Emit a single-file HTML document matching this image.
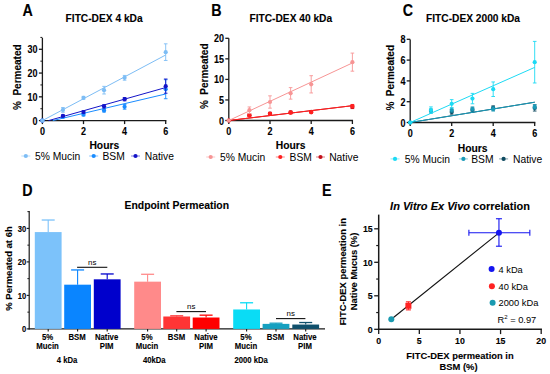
<!DOCTYPE html>
<html><head><meta charset="utf-8"><style>
html,body{margin:0;padding:0;background:#fff;}
svg{display:block;font-family:"Liberation Sans", sans-serif;}
text[font-weight=bold]{stroke:#000;stroke-width:0.1px;}
</style></head><body>
<svg width="550" height="374" viewBox="0 0 550 374">
<rect width="550" height="374" fill="#fff"/>
<text x="0" y="0" transform="translate(22.60,15.70) scale(1,1.1)" font-size="14.3" font-weight="bold" text-anchor="start" fill="#000" >A</text>
<text x="104.1" y="21.8" font-size="10.2" font-weight="bold" text-anchor="middle" fill="#000" >FITC-DEX 4 kDa</text>
<line x1="42.40" y1="38.00" x2="42.40" y2="121.25" stroke="#1a1a1a" stroke-width="1.3" />
<line x1="41.75" y1="120.60" x2="166.35" y2="120.60" stroke="#1a1a1a" stroke-width="1.3" />
<line x1="38.90" y1="120.60" x2="42.40" y2="120.60" stroke="#1a1a1a" stroke-width="1.3" />
<text x="0" y="0" transform="translate(37.60,124.60) scale(1,1.17)" font-size="9.0" font-weight="bold" text-anchor="end" fill="#000" >0</text>
<line x1="38.90" y1="96.83" x2="42.40" y2="96.83" stroke="#1a1a1a" stroke-width="1.3" />
<text x="0" y="0" transform="translate(37.60,100.83) scale(1,1.17)" font-size="9.0" font-weight="bold" text-anchor="end" fill="#000" >10</text>
<line x1="38.90" y1="73.06" x2="42.40" y2="73.06" stroke="#1a1a1a" stroke-width="1.3" />
<text x="0" y="0" transform="translate(37.60,77.06) scale(1,1.17)" font-size="9.0" font-weight="bold" text-anchor="end" fill="#000" >20</text>
<line x1="38.90" y1="49.29" x2="42.40" y2="49.29" stroke="#1a1a1a" stroke-width="1.3" />
<text x="0" y="0" transform="translate(37.60,53.29) scale(1,1.17)" font-size="9.0" font-weight="bold" text-anchor="end" fill="#000" >30</text>
<line x1="40.40" y1="108.72" x2="42.40" y2="108.72" stroke="#1a1a1a" stroke-width="1" />
<line x1="40.40" y1="84.94" x2="42.40" y2="84.94" stroke="#1a1a1a" stroke-width="1" />
<line x1="40.40" y1="61.17" x2="42.40" y2="61.17" stroke="#1a1a1a" stroke-width="1" />
<line x1="40.40" y1="37.41" x2="42.40" y2="37.41" stroke="#1a1a1a" stroke-width="1" />
<line x1="42.40" y1="120.60" x2="42.40" y2="124.10" stroke="#1a1a1a" stroke-width="1.3" />
<text x="0" y="0" transform="translate(42.40,135.10) scale(1,1.17)" font-size="9.0" font-weight="bold" text-anchor="middle" fill="#000" >0</text>
<line x1="83.50" y1="120.60" x2="83.50" y2="124.10" stroke="#1a1a1a" stroke-width="1.3" />
<text x="0" y="0" transform="translate(83.50,135.10) scale(1,1.17)" font-size="9.0" font-weight="bold" text-anchor="middle" fill="#000" >2</text>
<line x1="124.60" y1="120.60" x2="124.60" y2="124.10" stroke="#1a1a1a" stroke-width="1.3" />
<text x="0" y="0" transform="translate(124.60,135.10) scale(1,1.17)" font-size="9.0" font-weight="bold" text-anchor="middle" fill="#000" >4</text>
<line x1="165.70" y1="120.60" x2="165.70" y2="124.10" stroke="#1a1a1a" stroke-width="1.3" />
<text x="0" y="0" transform="translate(165.70,135.10) scale(1,1.17)" font-size="9.0" font-weight="bold" text-anchor="middle" fill="#000" >6</text>
<text x="0" y="0" font-size="10.0" font-weight="bold" text-anchor="middle" fill="#000" transform="translate(21.3,77.2) rotate(-90)">%&#160;&#160;Permeated</text>
<text x="104.3" y="149.3" font-size="10.3" font-weight="bold" text-anchor="middle" fill="#000" >Hours</text>
<line x1="52.67" y1="120.60" x2="165.70" y2="93.98" stroke="#1a8cff" stroke-width="1" />
<line x1="62.95" y1="117.75" x2="62.95" y2="115.85" stroke="#1a8cff" stroke-width="0.9" />
<line x1="61.15" y1="115.85" x2="64.75" y2="115.85" stroke="#1a8cff" stroke-width="0.9" />
<line x1="61.15" y1="117.75" x2="64.75" y2="117.75" stroke="#1a8cff" stroke-width="0.9" />
<circle cx="62.95" cy="116.80" r="2.1" fill="#1a8cff"/>
<line x1="83.50" y1="115.85" x2="83.50" y2="113.47" stroke="#1a8cff" stroke-width="0.9" />
<line x1="81.70" y1="113.47" x2="85.30" y2="113.47" stroke="#1a8cff" stroke-width="0.9" />
<line x1="81.70" y1="115.85" x2="85.30" y2="115.85" stroke="#1a8cff" stroke-width="0.9" />
<circle cx="83.50" cy="114.66" r="2.1" fill="#1a8cff"/>
<line x1="104.05" y1="112.04" x2="104.05" y2="109.19" stroke="#1a8cff" stroke-width="0.9" />
<line x1="102.25" y1="109.19" x2="105.85" y2="109.19" stroke="#1a8cff" stroke-width="0.9" />
<line x1="102.25" y1="112.04" x2="105.85" y2="112.04" stroke="#1a8cff" stroke-width="0.9" />
<circle cx="104.05" cy="110.62" r="2.1" fill="#1a8cff"/>
<line x1="124.60" y1="109.19" x2="124.60" y2="104.44" stroke="#1a8cff" stroke-width="0.9" />
<line x1="122.80" y1="104.44" x2="126.40" y2="104.44" stroke="#1a8cff" stroke-width="0.9" />
<line x1="122.80" y1="109.19" x2="126.40" y2="109.19" stroke="#1a8cff" stroke-width="0.9" />
<circle cx="124.60" cy="106.81" r="2.1" fill="#1a8cff"/>
<line x1="165.70" y1="98.73" x2="165.70" y2="79.72" stroke="#1a8cff" stroke-width="0.9" />
<line x1="163.90" y1="79.72" x2="167.50" y2="79.72" stroke="#1a8cff" stroke-width="0.9" />
<line x1="163.90" y1="98.73" x2="167.50" y2="98.73" stroke="#1a8cff" stroke-width="0.9" />
<circle cx="165.70" cy="89.22" r="2.1" fill="#1a8cff"/>
<circle cx="42.40" cy="120.60" r="2.1" fill="#1a8cff"/>
<line x1="48.56" y1="120.60" x2="165.70" y2="87.56" stroke="#1414c8" stroke-width="1" />
<line x1="62.95" y1="116.80" x2="62.95" y2="114.90" stroke="#1414c8" stroke-width="0.9" />
<line x1="61.15" y1="114.90" x2="64.75" y2="114.90" stroke="#1414c8" stroke-width="0.9" />
<line x1="61.15" y1="116.80" x2="64.75" y2="116.80" stroke="#1414c8" stroke-width="0.9" />
<circle cx="62.95" cy="115.85" r="2.1" fill="#1414c8"/>
<line x1="83.50" y1="113.23" x2="83.50" y2="110.85" stroke="#1414c8" stroke-width="0.9" />
<line x1="81.70" y1="110.85" x2="85.30" y2="110.85" stroke="#1414c8" stroke-width="0.9" />
<line x1="81.70" y1="113.23" x2="85.30" y2="113.23" stroke="#1414c8" stroke-width="0.9" />
<circle cx="83.50" cy="112.04" r="2.1" fill="#1414c8"/>
<line x1="104.05" y1="108.00" x2="104.05" y2="104.67" stroke="#1414c8" stroke-width="0.9" />
<line x1="102.25" y1="104.67" x2="105.85" y2="104.67" stroke="#1414c8" stroke-width="0.9" />
<line x1="102.25" y1="108.00" x2="105.85" y2="108.00" stroke="#1414c8" stroke-width="0.9" />
<circle cx="104.05" cy="106.34" r="2.1" fill="#1414c8"/>
<line x1="124.60" y1="100.87" x2="124.60" y2="97.54" stroke="#1414c8" stroke-width="0.9" />
<line x1="122.80" y1="97.54" x2="126.40" y2="97.54" stroke="#1414c8" stroke-width="0.9" />
<line x1="122.80" y1="100.87" x2="126.40" y2="100.87" stroke="#1414c8" stroke-width="0.9" />
<circle cx="124.60" cy="99.21" r="2.1" fill="#1414c8"/>
<line x1="165.70" y1="93.26" x2="165.70" y2="79.00" stroke="#1414c8" stroke-width="0.9" />
<line x1="163.90" y1="79.00" x2="167.50" y2="79.00" stroke="#1414c8" stroke-width="0.9" />
<line x1="163.90" y1="93.26" x2="167.50" y2="93.26" stroke="#1414c8" stroke-width="0.9" />
<circle cx="165.70" cy="86.13" r="2.1" fill="#1414c8"/>
<circle cx="42.40" cy="120.60" r="2.1" fill="#1414c8"/>
<line x1="42.40" y1="120.60" x2="165.70" y2="54.99" stroke="#7dbdf5" stroke-width="1" />
<line x1="62.95" y1="112.28" x2="62.95" y2="107.53" stroke="#7dbdf5" stroke-width="0.9" />
<line x1="61.15" y1="107.53" x2="64.75" y2="107.53" stroke="#7dbdf5" stroke-width="0.9" />
<line x1="61.15" y1="112.28" x2="64.75" y2="112.28" stroke="#7dbdf5" stroke-width="0.9" />
<circle cx="62.95" cy="109.90" r="2.1" fill="#7dbdf5"/>
<line x1="83.50" y1="99.21" x2="83.50" y2="96.35" stroke="#7dbdf5" stroke-width="0.9" />
<line x1="81.70" y1="96.35" x2="85.30" y2="96.35" stroke="#7dbdf5" stroke-width="0.9" />
<line x1="81.70" y1="99.21" x2="85.30" y2="99.21" stroke="#7dbdf5" stroke-width="0.9" />
<circle cx="83.50" cy="97.78" r="2.1" fill="#7dbdf5"/>
<line x1="104.05" y1="93.98" x2="104.05" y2="86.37" stroke="#7dbdf5" stroke-width="0.9" />
<line x1="102.25" y1="86.37" x2="105.85" y2="86.37" stroke="#7dbdf5" stroke-width="0.9" />
<line x1="102.25" y1="93.98" x2="105.85" y2="93.98" stroke="#7dbdf5" stroke-width="0.9" />
<circle cx="104.05" cy="90.17" r="2.1" fill="#7dbdf5"/>
<line x1="124.60" y1="80.19" x2="124.60" y2="75.44" stroke="#7dbdf5" stroke-width="0.9" />
<line x1="122.80" y1="75.44" x2="126.40" y2="75.44" stroke="#7dbdf5" stroke-width="0.9" />
<line x1="122.80" y1="80.19" x2="126.40" y2="80.19" stroke="#7dbdf5" stroke-width="0.9" />
<circle cx="124.60" cy="77.81" r="2.1" fill="#7dbdf5"/>
<line x1="165.70" y1="60.46" x2="165.70" y2="43.82" stroke="#7dbdf5" stroke-width="0.9" />
<line x1="163.90" y1="43.82" x2="167.50" y2="43.82" stroke="#7dbdf5" stroke-width="0.9" />
<line x1="163.90" y1="60.46" x2="167.50" y2="60.46" stroke="#7dbdf5" stroke-width="0.9" />
<circle cx="165.70" cy="52.14" r="2.1" fill="#7dbdf5"/>
<circle cx="42.40" cy="120.60" r="2.1" fill="#7dbdf5"/>
<line x1="21.30" y1="156.00" x2="30.30" y2="156.00" stroke="#7dbdf5" stroke-width="0.9" stroke-opacity="0.6"/>
<circle cx="25.80" cy="156.00" r="2.1" fill="#7dbdf5"/>
<text x="35" y="159.7" font-size="10.3" font-weight="normal" text-anchor="start" fill="#000" >5% Mucin</text>
<line x1="89.20" y1="156.00" x2="98.20" y2="156.00" stroke="#1a8cff" stroke-width="0.9" stroke-opacity="0.6"/>
<circle cx="93.70" cy="156.00" r="2.1" fill="#1a8cff"/>
<text x="102.5" y="159.7" font-size="10.3" font-weight="normal" text-anchor="start" fill="#000" >BSM</text>
<line x1="131.00" y1="156.00" x2="140.00" y2="156.00" stroke="#1414c8" stroke-width="0.9" stroke-opacity="0.6"/>
<circle cx="135.50" cy="156.00" r="2.1" fill="#1414c8"/>
<text x="144.8" y="159.7" font-size="10.3" font-weight="normal" text-anchor="start" fill="#000" >Native</text>
<text x="0" y="0" transform="translate(211.30,15.70) scale(1,1.1)" font-size="14.3" font-weight="bold" text-anchor="start" fill="#000" >B</text>
<text x="290.8" y="21.9" font-size="10.2" font-weight="bold" text-anchor="middle" fill="#000" >FITC-DEX 40 kDa</text>
<line x1="228.80" y1="38.30" x2="228.80" y2="121.15" stroke="#1a1a1a" stroke-width="1.3" />
<line x1="228.15" y1="120.50" x2="353.05" y2="120.50" stroke="#1a1a1a" stroke-width="1.3" />
<line x1="225.30" y1="120.50" x2="228.80" y2="120.50" stroke="#1a1a1a" stroke-width="1.3" />
<text x="0" y="0" transform="translate(224.00,124.50) scale(1,1.17)" font-size="9.0" font-weight="bold" text-anchor="end" fill="#000" >0</text>
<line x1="225.30" y1="99.95" x2="228.80" y2="99.95" stroke="#1a1a1a" stroke-width="1.3" />
<text x="0" y="0" transform="translate(224.00,103.95) scale(1,1.17)" font-size="9.0" font-weight="bold" text-anchor="end" fill="#000" >5</text>
<line x1="225.30" y1="79.40" x2="228.80" y2="79.40" stroke="#1a1a1a" stroke-width="1.3" />
<text x="0" y="0" transform="translate(224.00,83.40) scale(1,1.17)" font-size="9.0" font-weight="bold" text-anchor="end" fill="#000" >10</text>
<line x1="225.30" y1="58.85" x2="228.80" y2="58.85" stroke="#1a1a1a" stroke-width="1.3" />
<text x="0" y="0" transform="translate(224.00,62.85) scale(1,1.17)" font-size="9.0" font-weight="bold" text-anchor="end" fill="#000" >15</text>
<line x1="225.30" y1="38.30" x2="228.80" y2="38.30" stroke="#1a1a1a" stroke-width="1.3" />
<text x="0" y="0" transform="translate(224.00,42.30) scale(1,1.17)" font-size="9.0" font-weight="bold" text-anchor="end" fill="#000" >20</text>
<line x1="228.80" y1="120.50" x2="228.80" y2="124.00" stroke="#1a1a1a" stroke-width="1.3" />
<text x="0" y="0" transform="translate(228.80,135.00) scale(1,1.17)" font-size="9.0" font-weight="bold" text-anchor="middle" fill="#000" >0</text>
<line x1="270.00" y1="120.50" x2="270.00" y2="124.00" stroke="#1a1a1a" stroke-width="1.3" />
<text x="0" y="0" transform="translate(270.00,135.00) scale(1,1.17)" font-size="9.0" font-weight="bold" text-anchor="middle" fill="#000" >2</text>
<line x1="311.20" y1="120.50" x2="311.20" y2="124.00" stroke="#1a1a1a" stroke-width="1.3" />
<text x="0" y="0" transform="translate(311.20,135.00) scale(1,1.17)" font-size="9.0" font-weight="bold" text-anchor="middle" fill="#000" >4</text>
<line x1="352.40" y1="120.50" x2="352.40" y2="124.00" stroke="#1a1a1a" stroke-width="1.3" />
<text x="0" y="0" transform="translate(352.40,135.00) scale(1,1.17)" font-size="9.0" font-weight="bold" text-anchor="middle" fill="#000" >6</text>
<text x="0" y="0" font-size="10.0" font-weight="bold" text-anchor="middle" fill="#000" transform="translate(208.4,76.3) rotate(-90)">%&#160;&#160;Permeated</text>
<text x="290.6" y="149.3" font-size="10.3" font-weight="bold" text-anchor="middle" fill="#000" >Hours</text>
<line x1="228.80" y1="120.50" x2="352.40" y2="105.70" stroke="#c4101a" stroke-width="1" />
<line x1="249.40" y1="116.39" x2="249.40" y2="113.92" stroke="#c4101a" stroke-width="0.9" />
<line x1="247.60" y1="113.92" x2="251.20" y2="113.92" stroke="#c4101a" stroke-width="0.9" />
<line x1="247.60" y1="116.39" x2="251.20" y2="116.39" stroke="#c4101a" stroke-width="0.9" />
<circle cx="249.40" cy="115.16" r="2.1" fill="#c4101a"/>
<line x1="270.00" y1="114.75" x2="270.00" y2="112.28" stroke="#c4101a" stroke-width="0.9" />
<line x1="268.20" y1="112.28" x2="271.80" y2="112.28" stroke="#c4101a" stroke-width="0.9" />
<line x1="268.20" y1="114.75" x2="271.80" y2="114.75" stroke="#c4101a" stroke-width="0.9" />
<circle cx="270.00" cy="113.51" r="2.1" fill="#c4101a"/>
<line x1="290.60" y1="113.51" x2="290.60" y2="111.05" stroke="#c4101a" stroke-width="0.9" />
<line x1="288.80" y1="111.05" x2="292.40" y2="111.05" stroke="#c4101a" stroke-width="0.9" />
<line x1="288.80" y1="113.51" x2="292.40" y2="113.51" stroke="#c4101a" stroke-width="0.9" />
<circle cx="290.60" cy="112.28" r="2.1" fill="#c4101a"/>
<line x1="311.20" y1="112.69" x2="311.20" y2="111.05" stroke="#c4101a" stroke-width="0.9" />
<line x1="309.40" y1="111.05" x2="313.00" y2="111.05" stroke="#c4101a" stroke-width="0.9" />
<line x1="309.40" y1="112.69" x2="313.00" y2="112.69" stroke="#c4101a" stroke-width="0.9" />
<circle cx="311.20" cy="111.87" r="2.1" fill="#c4101a"/>
<line x1="352.40" y1="108.58" x2="352.40" y2="105.29" stroke="#c4101a" stroke-width="0.9" />
<line x1="350.60" y1="105.29" x2="354.20" y2="105.29" stroke="#c4101a" stroke-width="0.9" />
<line x1="350.60" y1="108.58" x2="354.20" y2="108.58" stroke="#c4101a" stroke-width="0.9" />
<circle cx="352.40" cy="106.94" r="2.1" fill="#c4101a"/>
<circle cx="228.80" cy="120.50" r="2.1" fill="#c4101a"/>
<line x1="228.80" y1="120.50" x2="352.40" y2="105.70" stroke="#ff2020" stroke-width="1" />
<line x1="249.40" y1="116.80" x2="249.40" y2="114.33" stroke="#ff2020" stroke-width="0.9" />
<line x1="247.60" y1="114.33" x2="251.20" y2="114.33" stroke="#ff2020" stroke-width="0.9" />
<line x1="247.60" y1="116.80" x2="251.20" y2="116.80" stroke="#ff2020" stroke-width="0.9" />
<circle cx="249.40" cy="115.57" r="2.1" fill="#ff2020"/>
<line x1="270.00" y1="115.16" x2="270.00" y2="112.69" stroke="#ff2020" stroke-width="0.9" />
<line x1="268.20" y1="112.69" x2="271.80" y2="112.69" stroke="#ff2020" stroke-width="0.9" />
<line x1="268.20" y1="115.16" x2="271.80" y2="115.16" stroke="#ff2020" stroke-width="0.9" />
<circle cx="270.00" cy="113.92" r="2.1" fill="#ff2020"/>
<line x1="290.60" y1="113.92" x2="290.60" y2="111.46" stroke="#ff2020" stroke-width="0.9" />
<line x1="288.80" y1="111.46" x2="292.40" y2="111.46" stroke="#ff2020" stroke-width="0.9" />
<line x1="288.80" y1="113.92" x2="292.40" y2="113.92" stroke="#ff2020" stroke-width="0.9" />
<circle cx="290.60" cy="112.69" r="2.1" fill="#ff2020"/>
<line x1="311.20" y1="113.10" x2="311.20" y2="111.46" stroke="#ff2020" stroke-width="0.9" />
<line x1="309.40" y1="111.46" x2="313.00" y2="111.46" stroke="#ff2020" stroke-width="0.9" />
<line x1="309.40" y1="113.10" x2="313.00" y2="113.10" stroke="#ff2020" stroke-width="0.9" />
<circle cx="311.20" cy="112.28" r="2.1" fill="#ff2020"/>
<line x1="352.40" y1="107.76" x2="352.40" y2="104.47" stroke="#ff2020" stroke-width="0.9" />
<line x1="350.60" y1="104.47" x2="354.20" y2="104.47" stroke="#ff2020" stroke-width="0.9" />
<line x1="350.60" y1="107.76" x2="354.20" y2="107.76" stroke="#ff2020" stroke-width="0.9" />
<circle cx="352.40" cy="106.11" r="2.1" fill="#ff2020"/>
<circle cx="228.80" cy="120.50" r="2.1" fill="#ff2020"/>
<line x1="228.80" y1="120.50" x2="352.40" y2="62.96" stroke="#f79595" stroke-width="1" />
<line x1="249.40" y1="113.51" x2="249.40" y2="106.94" stroke="#f79595" stroke-width="0.9" />
<line x1="247.60" y1="106.94" x2="251.20" y2="106.94" stroke="#f79595" stroke-width="0.9" />
<line x1="247.60" y1="113.51" x2="251.20" y2="113.51" stroke="#f79595" stroke-width="0.9" />
<circle cx="249.40" cy="110.22" r="2.1" fill="#f79595"/>
<line x1="270.00" y1="108.17" x2="270.00" y2="95.84" stroke="#f79595" stroke-width="0.9" />
<line x1="268.20" y1="95.84" x2="271.80" y2="95.84" stroke="#f79595" stroke-width="0.9" />
<line x1="268.20" y1="108.17" x2="271.80" y2="108.17" stroke="#f79595" stroke-width="0.9" />
<circle cx="270.00" cy="102.00" r="2.1" fill="#f79595"/>
<line x1="290.60" y1="99.13" x2="290.60" y2="87.62" stroke="#f79595" stroke-width="0.9" />
<line x1="288.80" y1="87.62" x2="292.40" y2="87.62" stroke="#f79595" stroke-width="0.9" />
<line x1="288.80" y1="99.13" x2="292.40" y2="99.13" stroke="#f79595" stroke-width="0.9" />
<circle cx="290.60" cy="93.37" r="2.1" fill="#f79595"/>
<line x1="311.20" y1="92.96" x2="311.20" y2="75.70" stroke="#f79595" stroke-width="0.9" />
<line x1="309.40" y1="75.70" x2="313.00" y2="75.70" stroke="#f79595" stroke-width="0.9" />
<line x1="309.40" y1="92.96" x2="313.00" y2="92.96" stroke="#f79595" stroke-width="0.9" />
<circle cx="311.20" cy="84.33" r="2.1" fill="#f79595"/>
<line x1="352.40" y1="71.18" x2="352.40" y2="53.10" stroke="#f79595" stroke-width="0.9" />
<line x1="350.60" y1="53.10" x2="354.20" y2="53.10" stroke="#f79595" stroke-width="0.9" />
<line x1="350.60" y1="71.18" x2="354.20" y2="71.18" stroke="#f79595" stroke-width="0.9" />
<circle cx="352.40" cy="62.14" r="2.1" fill="#f79595"/>
<circle cx="228.80" cy="120.50" r="2.1" fill="#f79595"/>
<line x1="206.20" y1="157.00" x2="215.20" y2="157.00" stroke="#f79595" stroke-width="0.9" stroke-opacity="0.6"/>
<circle cx="210.70" cy="157.00" r="2.1" fill="#f79595"/>
<text x="220" y="160.7" font-size="10.3" font-weight="normal" text-anchor="start" fill="#000" >5% Mucin</text>
<line x1="275.80" y1="157.00" x2="284.80" y2="157.00" stroke="#ff2020" stroke-width="0.9" stroke-opacity="0.6"/>
<circle cx="280.30" cy="157.00" r="2.1" fill="#ff2020"/>
<text x="289.6" y="160.7" font-size="10.3" font-weight="normal" text-anchor="start" fill="#000" >BSM</text>
<line x1="316.00" y1="157.00" x2="325.00" y2="157.00" stroke="#c4101a" stroke-width="0.9" stroke-opacity="0.6"/>
<circle cx="320.50" cy="157.00" r="2.1" fill="#c4101a"/>
<text x="329.2" y="160.7" font-size="10.3" font-weight="normal" text-anchor="start" fill="#000" >Native</text>
<text x="0" y="0" transform="translate(402.80,15.70) scale(1,1.1)" font-size="14.3" font-weight="bold" text-anchor="start" fill="#000" >C</text>
<text x="473.0" y="22.3" font-size="10.2" font-weight="bold" text-anchor="middle" fill="#000" >FITC-DEX 2000 kDa</text>
<line x1="410.20" y1="39.40" x2="410.20" y2="123.15" stroke="#1a1a1a" stroke-width="1.3" />
<line x1="409.55" y1="122.50" x2="535.35" y2="122.50" stroke="#1a1a1a" stroke-width="1.3" />
<line x1="406.70" y1="122.50" x2="410.20" y2="122.50" stroke="#1a1a1a" stroke-width="1.3" />
<text x="0" y="0" transform="translate(405.40,126.50) scale(1,1.17)" font-size="9.0" font-weight="bold" text-anchor="end" fill="#000" >0</text>
<line x1="406.70" y1="101.70" x2="410.20" y2="101.70" stroke="#1a1a1a" stroke-width="1.3" />
<text x="0" y="0" transform="translate(405.40,105.70) scale(1,1.17)" font-size="9.0" font-weight="bold" text-anchor="end" fill="#000" >2</text>
<line x1="406.70" y1="80.90" x2="410.20" y2="80.90" stroke="#1a1a1a" stroke-width="1.3" />
<text x="0" y="0" transform="translate(405.40,84.90) scale(1,1.17)" font-size="9.0" font-weight="bold" text-anchor="end" fill="#000" >4</text>
<line x1="406.70" y1="60.10" x2="410.20" y2="60.10" stroke="#1a1a1a" stroke-width="1.3" />
<text x="0" y="0" transform="translate(405.40,64.10) scale(1,1.17)" font-size="9.0" font-weight="bold" text-anchor="end" fill="#000" >6</text>
<line x1="406.70" y1="39.30" x2="410.20" y2="39.30" stroke="#1a1a1a" stroke-width="1.3" />
<text x="0" y="0" transform="translate(405.40,43.30) scale(1,1.17)" font-size="9.0" font-weight="bold" text-anchor="end" fill="#000" >8</text>
<line x1="410.20" y1="122.50" x2="410.20" y2="126.00" stroke="#1a1a1a" stroke-width="1.3" />
<text x="0" y="0" transform="translate(410.20,137.00) scale(1,1.17)" font-size="9.0" font-weight="bold" text-anchor="middle" fill="#000" >0</text>
<line x1="451.70" y1="122.50" x2="451.70" y2="126.00" stroke="#1a1a1a" stroke-width="1.3" />
<text x="0" y="0" transform="translate(451.70,137.00) scale(1,1.17)" font-size="9.0" font-weight="bold" text-anchor="middle" fill="#000" >2</text>
<line x1="493.20" y1="122.50" x2="493.20" y2="126.00" stroke="#1a1a1a" stroke-width="1.3" />
<text x="0" y="0" transform="translate(493.20,137.00) scale(1,1.17)" font-size="9.0" font-weight="bold" text-anchor="middle" fill="#000" >4</text>
<line x1="534.70" y1="122.50" x2="534.70" y2="126.00" stroke="#1a1a1a" stroke-width="1.3" />
<text x="0" y="0" transform="translate(534.70,137.00) scale(1,1.17)" font-size="9.0" font-weight="bold" text-anchor="middle" fill="#000" >6</text>
<text x="0" y="0" font-size="10.0" font-weight="bold" text-anchor="middle" fill="#000" transform="translate(394.1,77.8) rotate(-90)">%&#160;&#160;Permeated</text>
<text x="472.7" y="152" font-size="10.3" font-weight="bold" text-anchor="middle" fill="#000" >Hours</text>
<line x1="410.20" y1="122.50" x2="534.70" y2="102.22" stroke="#0e4a60" stroke-width="1" />
<line x1="451.70" y1="114.18" x2="451.70" y2="110.02" stroke="#0e4a60" stroke-width="0.9" />
<line x1="449.90" y1="110.02" x2="453.50" y2="110.02" stroke="#0e4a60" stroke-width="0.9" />
<line x1="449.90" y1="114.18" x2="453.50" y2="114.18" stroke="#0e4a60" stroke-width="0.9" />
<circle cx="451.70" cy="112.10" r="2.1" fill="#0e4a60"/>
<line x1="472.45" y1="112.10" x2="472.45" y2="107.94" stroke="#0e4a60" stroke-width="0.9" />
<line x1="470.65" y1="107.94" x2="474.25" y2="107.94" stroke="#0e4a60" stroke-width="0.9" />
<line x1="470.65" y1="112.10" x2="474.25" y2="112.10" stroke="#0e4a60" stroke-width="0.9" />
<circle cx="472.45" cy="110.02" r="2.1" fill="#0e4a60"/>
<line x1="493.20" y1="110.02" x2="493.20" y2="105.86" stroke="#0e4a60" stroke-width="0.9" />
<line x1="491.40" y1="105.86" x2="495.00" y2="105.86" stroke="#0e4a60" stroke-width="0.9" />
<line x1="491.40" y1="110.02" x2="495.00" y2="110.02" stroke="#0e4a60" stroke-width="0.9" />
<circle cx="493.20" cy="107.94" r="2.1" fill="#0e4a60"/>
<line x1="534.70" y1="111.06" x2="534.70" y2="104.82" stroke="#0e4a60" stroke-width="0.9" />
<line x1="532.90" y1="104.82" x2="536.50" y2="104.82" stroke="#0e4a60" stroke-width="0.9" />
<line x1="532.90" y1="111.06" x2="536.50" y2="111.06" stroke="#0e4a60" stroke-width="0.9" />
<circle cx="534.70" cy="107.94" r="2.1" fill="#0e4a60"/>
<circle cx="410.20" cy="122.50" r="2.1" fill="#0e4a60"/>
<line x1="410.20" y1="122.50" x2="534.70" y2="102.22" stroke="#1a9ab8" stroke-width="1" />
<line x1="430.95" y1="113.14" x2="430.95" y2="108.98" stroke="#1a9ab8" stroke-width="0.9" />
<line x1="429.15" y1="108.98" x2="432.75" y2="108.98" stroke="#1a9ab8" stroke-width="0.9" />
<line x1="429.15" y1="113.14" x2="432.75" y2="113.14" stroke="#1a9ab8" stroke-width="0.9" />
<circle cx="430.95" cy="111.06" r="2.1" fill="#1a9ab8"/>
<line x1="451.70" y1="112.10" x2="451.70" y2="107.94" stroke="#1a9ab8" stroke-width="0.9" />
<line x1="449.90" y1="107.94" x2="453.50" y2="107.94" stroke="#1a9ab8" stroke-width="0.9" />
<line x1="449.90" y1="112.10" x2="453.50" y2="112.10" stroke="#1a9ab8" stroke-width="0.9" />
<circle cx="451.70" cy="110.02" r="2.1" fill="#1a9ab8"/>
<line x1="472.45" y1="111.06" x2="472.45" y2="106.90" stroke="#1a9ab8" stroke-width="0.9" />
<line x1="470.65" y1="106.90" x2="474.25" y2="106.90" stroke="#1a9ab8" stroke-width="0.9" />
<line x1="470.65" y1="111.06" x2="474.25" y2="111.06" stroke="#1a9ab8" stroke-width="0.9" />
<circle cx="472.45" cy="108.98" r="2.1" fill="#1a9ab8"/>
<line x1="493.20" y1="111.06" x2="493.20" y2="106.90" stroke="#1a9ab8" stroke-width="0.9" />
<line x1="491.40" y1="106.90" x2="495.00" y2="106.90" stroke="#1a9ab8" stroke-width="0.9" />
<line x1="491.40" y1="111.06" x2="495.00" y2="111.06" stroke="#1a9ab8" stroke-width="0.9" />
<circle cx="493.20" cy="108.98" r="2.1" fill="#1a9ab8"/>
<line x1="534.70" y1="108.98" x2="534.70" y2="104.82" stroke="#1a9ab8" stroke-width="0.9" />
<line x1="532.90" y1="104.82" x2="536.50" y2="104.82" stroke="#1a9ab8" stroke-width="0.9" />
<line x1="532.90" y1="108.98" x2="536.50" y2="108.98" stroke="#1a9ab8" stroke-width="0.9" />
<circle cx="534.70" cy="106.90" r="2.1" fill="#1a9ab8"/>
<circle cx="410.20" cy="122.50" r="2.1" fill="#1a9ab8"/>
<line x1="410.20" y1="122.50" x2="534.70" y2="67.38" stroke="#1cdaf4" stroke-width="1" />
<line x1="430.95" y1="113.14" x2="430.95" y2="106.90" stroke="#1cdaf4" stroke-width="0.9" />
<line x1="429.15" y1="106.90" x2="432.75" y2="106.90" stroke="#1cdaf4" stroke-width="0.9" />
<line x1="429.15" y1="113.14" x2="432.75" y2="113.14" stroke="#1cdaf4" stroke-width="0.9" />
<circle cx="430.95" cy="110.02" r="2.1" fill="#1cdaf4"/>
<line x1="451.70" y1="107.94" x2="451.70" y2="99.62" stroke="#1cdaf4" stroke-width="0.9" />
<line x1="449.90" y1="99.62" x2="453.50" y2="99.62" stroke="#1cdaf4" stroke-width="0.9" />
<line x1="449.90" y1="107.94" x2="453.50" y2="107.94" stroke="#1cdaf4" stroke-width="0.9" />
<circle cx="451.70" cy="103.78" r="2.1" fill="#1cdaf4"/>
<line x1="472.45" y1="103.78" x2="472.45" y2="93.38" stroke="#1cdaf4" stroke-width="0.9" />
<line x1="470.65" y1="93.38" x2="474.25" y2="93.38" stroke="#1cdaf4" stroke-width="0.9" />
<line x1="470.65" y1="103.78" x2="474.25" y2="103.78" stroke="#1cdaf4" stroke-width="0.9" />
<circle cx="472.45" cy="98.58" r="2.1" fill="#1cdaf4"/>
<line x1="493.20" y1="96.50" x2="493.20" y2="81.94" stroke="#1cdaf4" stroke-width="0.9" />
<line x1="491.40" y1="81.94" x2="495.00" y2="81.94" stroke="#1cdaf4" stroke-width="0.9" />
<line x1="491.40" y1="96.50" x2="495.00" y2="96.50" stroke="#1cdaf4" stroke-width="0.9" />
<circle cx="493.20" cy="89.22" r="2.1" fill="#1cdaf4"/>
<line x1="534.70" y1="82.98" x2="534.70" y2="41.38" stroke="#1cdaf4" stroke-width="0.9" />
<line x1="532.90" y1="41.38" x2="536.50" y2="41.38" stroke="#1cdaf4" stroke-width="0.9" />
<line x1="532.90" y1="82.98" x2="536.50" y2="82.98" stroke="#1cdaf4" stroke-width="0.9" />
<circle cx="534.70" cy="62.18" r="2.1" fill="#1cdaf4"/>
<circle cx="410.20" cy="122.50" r="2.1" fill="#1cdaf4"/>
<line x1="390.50" y1="158.90" x2="399.50" y2="158.90" stroke="#1cdaf4" stroke-width="0.9" stroke-opacity="0.6"/>
<circle cx="395.00" cy="158.90" r="2.1" fill="#1cdaf4"/>
<text x="404.7" y="162.6" font-size="10.3" font-weight="normal" text-anchor="start" fill="#000" >5% Mucin</text>
<line x1="458.90" y1="158.90" x2="467.90" y2="158.90" stroke="#1a9ab8" stroke-width="0.9" stroke-opacity="0.6"/>
<circle cx="463.40" cy="158.90" r="2.1" fill="#1a9ab8"/>
<text x="471.2" y="162.6" font-size="10.3" font-weight="normal" text-anchor="start" fill="#000" >BSM</text>
<line x1="499.10" y1="158.90" x2="508.10" y2="158.90" stroke="#0e4a60" stroke-width="0.9" stroke-opacity="0.6"/>
<circle cx="503.60" cy="158.90" r="2.1" fill="#0e4a60"/>
<text x="513" y="162.6" font-size="10.3" font-weight="normal" text-anchor="start" fill="#000" >Native</text>
<text x="0" y="0" transform="translate(22.20,195.80) scale(1,1.1)" font-size="14.3" font-weight="bold" text-anchor="start" fill="#000" >D</text>
<text x="176.8" y="208.5" font-size="10.4" font-weight="bold" text-anchor="middle" fill="#000" >Endpoint Permeation</text>
<line x1="29.20" y1="211.00" x2="29.20" y2="329.50" stroke="#1a1a1a" stroke-width="1.2" />
<line x1="28.60" y1="328.90" x2="325.00" y2="328.90" stroke="#1a1a1a" stroke-width="1.2" />
<line x1="26.70" y1="328.90" x2="29.20" y2="328.90" stroke="#1a1a1a" stroke-width="1.1" />
<text x="0" y="0" transform="translate(26.10,332.10) scale(1,1.12)" font-size="7.6" font-weight="bold" text-anchor="end" fill="#000" >0</text>
<line x1="26.70" y1="295.40" x2="29.20" y2="295.40" stroke="#1a1a1a" stroke-width="1.1" />
<text x="0" y="0" transform="translate(26.10,298.60) scale(1,1.12)" font-size="7.6" font-weight="bold" text-anchor="end" fill="#000" >10</text>
<line x1="26.70" y1="261.90" x2="29.20" y2="261.90" stroke="#1a1a1a" stroke-width="1.1" />
<text x="0" y="0" transform="translate(26.10,265.10) scale(1,1.12)" font-size="7.6" font-weight="bold" text-anchor="end" fill="#000" >20</text>
<line x1="26.70" y1="228.40" x2="29.20" y2="228.40" stroke="#1a1a1a" stroke-width="1.1" />
<text x="0" y="0" transform="translate(26.10,231.60) scale(1,1.12)" font-size="7.6" font-weight="bold" text-anchor="end" fill="#000" >30</text>
<line x1="27.40" y1="312.15" x2="29.20" y2="312.15" stroke="#1a1a1a" stroke-width="1" />
<line x1="27.40" y1="278.65" x2="29.20" y2="278.65" stroke="#1a1a1a" stroke-width="1" />
<line x1="27.40" y1="245.15" x2="29.20" y2="245.15" stroke="#1a1a1a" stroke-width="1" />
<line x1="27.40" y1="211.65" x2="29.20" y2="211.65" stroke="#1a1a1a" stroke-width="1" />
<text x="0" y="0" font-size="9.5" font-weight="bold" text-anchor="middle" fill="#000" transform="translate(12.2,268.5) rotate(-90)">% Permeated at 6h</text>
<line x1="48.20" y1="232.08" x2="48.20" y2="220.02" stroke="#7cc2fa" stroke-width="1.1" />
<line x1="41.70" y1="220.02" x2="54.70" y2="220.02" stroke="#7cc2fa" stroke-width="1.3" />
<rect x="34.80" y="232.08" width="26.80" height="96.81" fill="#7cc2fa"/>
<line x1="48.20" y1="328.90" x2="48.20" y2="331.50" stroke="#1a1a1a" stroke-width="1.1" />
<line x1="77.60" y1="284.68" x2="77.60" y2="269.94" stroke="#0a85ff" stroke-width="1.1" />
<line x1="71.10" y1="269.94" x2="84.10" y2="269.94" stroke="#0a85ff" stroke-width="1.3" />
<rect x="64.20" y="284.68" width="26.80" height="44.22" fill="#0a85ff"/>
<line x1="77.60" y1="328.90" x2="77.60" y2="331.50" stroke="#1a1a1a" stroke-width="1.1" />
<line x1="107.20" y1="279.32" x2="107.20" y2="273.96" stroke="#0000cc" stroke-width="1.1" />
<line x1="100.70" y1="273.96" x2="113.70" y2="273.96" stroke="#0000cc" stroke-width="1.3" />
<rect x="93.80" y="279.32" width="26.80" height="49.58" fill="#0000cc"/>
<line x1="107.20" y1="328.90" x2="107.20" y2="331.50" stroke="#1a1a1a" stroke-width="1.1" />
<line x1="147.60" y1="281.66" x2="147.60" y2="274.29" stroke="#ff8a8a" stroke-width="1.1" />
<line x1="141.10" y1="274.29" x2="154.10" y2="274.29" stroke="#ff8a8a" stroke-width="1.3" />
<rect x="134.20" y="281.66" width="26.80" height="47.24" fill="#ff8a8a"/>
<line x1="147.60" y1="328.90" x2="147.60" y2="331.50" stroke="#1a1a1a" stroke-width="1.1" />
<line x1="176.70" y1="316.50" x2="176.70" y2="315.83" stroke="#ff3535" stroke-width="1.1" />
<line x1="170.20" y1="315.83" x2="183.20" y2="315.83" stroke="#ff3535" stroke-width="1.3" />
<rect x="163.30" y="316.50" width="26.80" height="12.39" fill="#ff3535"/>
<line x1="176.70" y1="328.90" x2="176.70" y2="331.50" stroke="#1a1a1a" stroke-width="1.1" />
<line x1="206.10" y1="317.51" x2="206.10" y2="315.16" stroke="#ff0000" stroke-width="1.1" />
<line x1="199.60" y1="315.16" x2="212.60" y2="315.16" stroke="#ff0000" stroke-width="1.3" />
<rect x="192.70" y="317.51" width="26.80" height="11.39" fill="#ff0000"/>
<line x1="206.10" y1="328.90" x2="206.10" y2="331.50" stroke="#1a1a1a" stroke-width="1.1" />
<line x1="246.60" y1="309.47" x2="246.60" y2="302.77" stroke="#0adcf5" stroke-width="1.1" />
<line x1="240.10" y1="302.77" x2="253.10" y2="302.77" stroke="#0adcf5" stroke-width="1.3" />
<rect x="233.20" y="309.47" width="26.80" height="19.43" fill="#0adcf5"/>
<line x1="246.60" y1="328.90" x2="246.60" y2="331.50" stroke="#1a1a1a" stroke-width="1.1" />
<line x1="276.00" y1="323.88" x2="276.00" y2="323.20" stroke="#16a0c0" stroke-width="1.1" />
<line x1="269.50" y1="323.20" x2="282.50" y2="323.20" stroke="#16a0c0" stroke-width="1.3" />
<rect x="262.60" y="323.88" width="26.80" height="5.02" fill="#16a0c0"/>
<line x1="276.00" y1="328.90" x2="276.00" y2="331.50" stroke="#1a1a1a" stroke-width="1.1" />
<line x1="305.70" y1="324.54" x2="305.70" y2="322.53" stroke="#10506c" stroke-width="1.1" />
<line x1="299.20" y1="322.53" x2="312.20" y2="322.53" stroke="#10506c" stroke-width="1.3" />
<rect x="292.30" y="324.54" width="26.80" height="4.36" fill="#10506c"/>
<line x1="305.70" y1="328.90" x2="305.70" y2="331.50" stroke="#1a1a1a" stroke-width="1.1" />
<line x1="77.10" y1="267.30" x2="107.30" y2="267.30" stroke="#111" stroke-width="1.1" />
<text x="92.19999999999999" y="264.8" font-size="7.9" font-weight="normal" text-anchor="middle" fill="#000" >ns</text>
<line x1="176.40" y1="311.60" x2="206.00" y2="311.60" stroke="#111" stroke-width="1.1" />
<text x="191.2" y="309.1" font-size="7.9" font-weight="normal" text-anchor="middle" fill="#000" >ns</text>
<line x1="276.00" y1="318.60" x2="305.40" y2="318.60" stroke="#111" stroke-width="1.1" />
<text x="290.7" y="316.1" font-size="7.9" font-weight="normal" text-anchor="middle" fill="#000" >ns</text>
<text x="0" y="0" transform="translate(47.60,340.40) scale(1,1.08)" font-size="7.8" font-weight="bold" text-anchor="middle" fill="#000" >5%</text>
<text x="0" y="0" transform="translate(47.60,349.00) scale(1,1.08)" font-size="7.8" font-weight="bold" text-anchor="middle" fill="#000" >Mucin</text>
<text x="0" y="0" transform="translate(77.10,340.40) scale(1,1.08)" font-size="7.8" font-weight="bold" text-anchor="middle" fill="#000" >BSM</text>
<text x="0" y="0" transform="translate(106.60,340.40) scale(1,1.08)" font-size="7.8" font-weight="bold" text-anchor="middle" fill="#000" >Native</text>
<text x="0" y="0" transform="translate(106.60,349.00) scale(1,1.08)" font-size="7.8" font-weight="bold" text-anchor="middle" fill="#000" >PIM</text>
<text x="0" y="0" transform="translate(147.00,340.40) scale(1,1.08)" font-size="7.8" font-weight="bold" text-anchor="middle" fill="#000" >5%</text>
<text x="0" y="0" transform="translate(147.00,349.00) scale(1,1.08)" font-size="7.8" font-weight="bold" text-anchor="middle" fill="#000" >Mucin</text>
<text x="0" y="0" transform="translate(176.50,340.40) scale(1,1.08)" font-size="7.8" font-weight="bold" text-anchor="middle" fill="#000" >BSM</text>
<text x="0" y="0" transform="translate(206.00,340.40) scale(1,1.08)" font-size="7.8" font-weight="bold" text-anchor="middle" fill="#000" >Native</text>
<text x="0" y="0" transform="translate(206.00,349.00) scale(1,1.08)" font-size="7.8" font-weight="bold" text-anchor="middle" fill="#000" >PIM</text>
<text x="0" y="0" transform="translate(246.00,340.40) scale(1,1.08)" font-size="7.8" font-weight="bold" text-anchor="middle" fill="#000" >5%</text>
<text x="0" y="0" transform="translate(246.00,349.00) scale(1,1.08)" font-size="7.8" font-weight="bold" text-anchor="middle" fill="#000" >Mucin</text>
<text x="0" y="0" transform="translate(275.50,340.40) scale(1,1.08)" font-size="7.8" font-weight="bold" text-anchor="middle" fill="#000" >BSM</text>
<text x="0" y="0" transform="translate(305.00,340.40) scale(1,1.08)" font-size="7.8" font-weight="bold" text-anchor="middle" fill="#000" >Native</text>
<text x="0" y="0" transform="translate(305.00,349.00) scale(1,1.08)" font-size="7.8" font-weight="bold" text-anchor="middle" fill="#000" >PIM</text>
<text x="0" y="0" transform="translate(67.10,363.10) scale(1,1.08)" font-size="7.7" font-weight="bold" text-anchor="middle" fill="#000" >4 kDa</text>
<text x="0" y="0" transform="translate(154.30,363.10) scale(1,1.08)" font-size="7.7" font-weight="bold" text-anchor="middle" fill="#000" >40kDa</text>
<text x="0" y="0" transform="translate(251.10,363.10) scale(1,1.08)" font-size="7.7" font-weight="bold" text-anchor="middle" fill="#000" >2000 kDa</text>
<text x="0" y="0" transform="translate(322.00,196.00) scale(1,1.1)" font-size="14.3" font-weight="bold" text-anchor="start" fill="#000" >E</text>
<text x="460" y="210.2" font-size="11" font-weight="bold" text-anchor="middle"><tspan font-style="italic">In Vitro Ex Vivo</tspan> correlation</text>
<line x1="378.70" y1="214.60" x2="378.70" y2="330.05" stroke="#1a1a1a" stroke-width="1.5" />
<line x1="377.95" y1="329.30" x2="541.95" y2="329.30" stroke="#1a1a1a" stroke-width="1.5" />
<line x1="374.20" y1="329.30" x2="378.70" y2="329.30" stroke="#1a1a1a" stroke-width="1.3" />
<text x="0" y="0" transform="translate(372.70,332.70) scale(1,1.1)" font-size="8.8" font-weight="bold" text-anchor="end" fill="#000" >0</text>
<line x1="374.20" y1="295.80" x2="378.70" y2="295.80" stroke="#1a1a1a" stroke-width="1.3" />
<text x="0" y="0" transform="translate(372.70,299.20) scale(1,1.1)" font-size="8.8" font-weight="bold" text-anchor="end" fill="#000" >5</text>
<line x1="374.20" y1="262.30" x2="378.70" y2="262.30" stroke="#1a1a1a" stroke-width="1.3" />
<text x="0" y="0" transform="translate(372.70,265.70) scale(1,1.1)" font-size="8.8" font-weight="bold" text-anchor="end" fill="#000" >10</text>
<line x1="374.20" y1="228.80" x2="378.70" y2="228.80" stroke="#1a1a1a" stroke-width="1.3" />
<text x="0" y="0" transform="translate(372.70,232.20) scale(1,1.1)" font-size="8.8" font-weight="bold" text-anchor="end" fill="#000" >15</text>
<line x1="376.20" y1="312.55" x2="378.70" y2="312.55" stroke="#1a1a1a" stroke-width="1.2" />
<line x1="376.20" y1="279.05" x2="378.70" y2="279.05" stroke="#1a1a1a" stroke-width="1.2" />
<line x1="376.20" y1="245.55" x2="378.70" y2="245.55" stroke="#1a1a1a" stroke-width="1.2" />
<line x1="378.70" y1="329.30" x2="378.70" y2="334.10" stroke="#1a1a1a" stroke-width="1.3" />
<text x="0" y="0" transform="translate(378.70,344.20) scale(1,1.1)" font-size="8.8" font-weight="bold" text-anchor="middle" fill="#000" >0</text>
<line x1="419.32" y1="329.30" x2="419.32" y2="334.10" stroke="#1a1a1a" stroke-width="1.3" />
<text x="0" y="0" transform="translate(419.32,344.20) scale(1,1.1)" font-size="8.8" font-weight="bold" text-anchor="middle" fill="#000" >5</text>
<line x1="459.95" y1="329.30" x2="459.95" y2="334.10" stroke="#1a1a1a" stroke-width="1.3" />
<text x="0" y="0" transform="translate(459.95,344.20) scale(1,1.1)" font-size="8.8" font-weight="bold" text-anchor="middle" fill="#000" >10</text>
<line x1="500.57" y1="329.30" x2="500.57" y2="334.10" stroke="#1a1a1a" stroke-width="1.3" />
<text x="0" y="0" transform="translate(500.57,344.20) scale(1,1.1)" font-size="8.8" font-weight="bold" text-anchor="middle" fill="#000" >15</text>
<line x1="541.20" y1="329.30" x2="541.20" y2="334.10" stroke="#1a1a1a" stroke-width="1.3" />
<text x="0" y="0" transform="translate(541.20,344.20) scale(1,1.1)" font-size="8.8" font-weight="bold" text-anchor="middle" fill="#000" >20</text>
<text x="460" y="359.2" font-size="9.4" font-weight="bold" text-anchor="middle" fill="#000" >FITC-DEX permeation in</text>
<text x="458.5" y="370.2" font-size="9.4" font-weight="bold" text-anchor="middle" fill="#000" >BSM (%)</text>
<text x="0" y="0" font-size="9.4" font-weight="bold" text-anchor="middle" fill="#000" transform="translate(346,271.7) rotate(-90)">FITC-DEX permeation in</text>
<text x="0" y="0" font-size="9.4" font-weight="bold" text-anchor="middle" fill="#000" transform="translate(357,271.5) rotate(-90)">Native Mucus (%)</text>
<line x1="391.29" y1="319.25" x2="498.95" y2="232.82" stroke="#111" stroke-width="1.1" />
<line x1="468.89" y1="232.82" x2="529.83" y2="232.82" stroke="#1515f0" stroke-width="1.1" />
<line x1="468.89" y1="229.82" x2="468.89" y2="235.82" stroke="#1515f0" stroke-width="1.1" />
<line x1="529.83" y1="229.82" x2="529.83" y2="235.82" stroke="#1515f0" stroke-width="1.1" />
<line x1="498.95" y1="218.75" x2="498.95" y2="246.22" stroke="#1515f0" stroke-width="1.1" />
<line x1="495.95" y1="218.75" x2="501.95" y2="218.75" stroke="#1515f0" stroke-width="1.1" />
<line x1="495.95" y1="246.22" x2="501.95" y2="246.22" stroke="#1515f0" stroke-width="1.1" />
<circle cx="498.95" cy="232.82" r="3.0" fill="#1515f0"/>
<line x1="408.40" y1="309.87" x2="408.40" y2="301.83" stroke="#ff2222" stroke-width="1.1" />
<line x1="405.90" y1="301.83" x2="410.90" y2="301.83" stroke="#ff2222" stroke-width="1.1" />
<line x1="405.90" y1="309.87" x2="410.90" y2="309.87" stroke="#ff2222" stroke-width="1.1" />
<rect x="405.40" y="302.80" width="6.00" height="6.00" fill="#ff2222"/>
<circle cx="391.29" cy="319.25" r="3.0" fill="#1a9ab0"/>
<circle cx="491.60" cy="269.00" r="3.0" fill="#1515f0"/>
<text x="498.5" y="273.1" font-size="9.3" font-weight="normal" text-anchor="start" fill="#000" >4 kDa</text>
<circle cx="491.90" cy="286.20" r="3.0" fill="#ff2222"/>
<text x="498.5" y="289.6" font-size="9.3" font-weight="normal" text-anchor="start" fill="#000" >40 kDa</text>
<circle cx="492.60" cy="302.70" r="3.0" fill="#1a9ab0"/>
<text x="498.5" y="305.9" font-size="9.3" font-weight="normal" text-anchor="start" fill="#000" >2000 kDa</text>
<text x="0" y="0" transform="translate(497.5,322.7)" font-size="9.3">R<tspan dy="-4" font-size="6">2</tspan><tspan dy="4"> = 0.97</tspan></text>
</svg></body></html>
